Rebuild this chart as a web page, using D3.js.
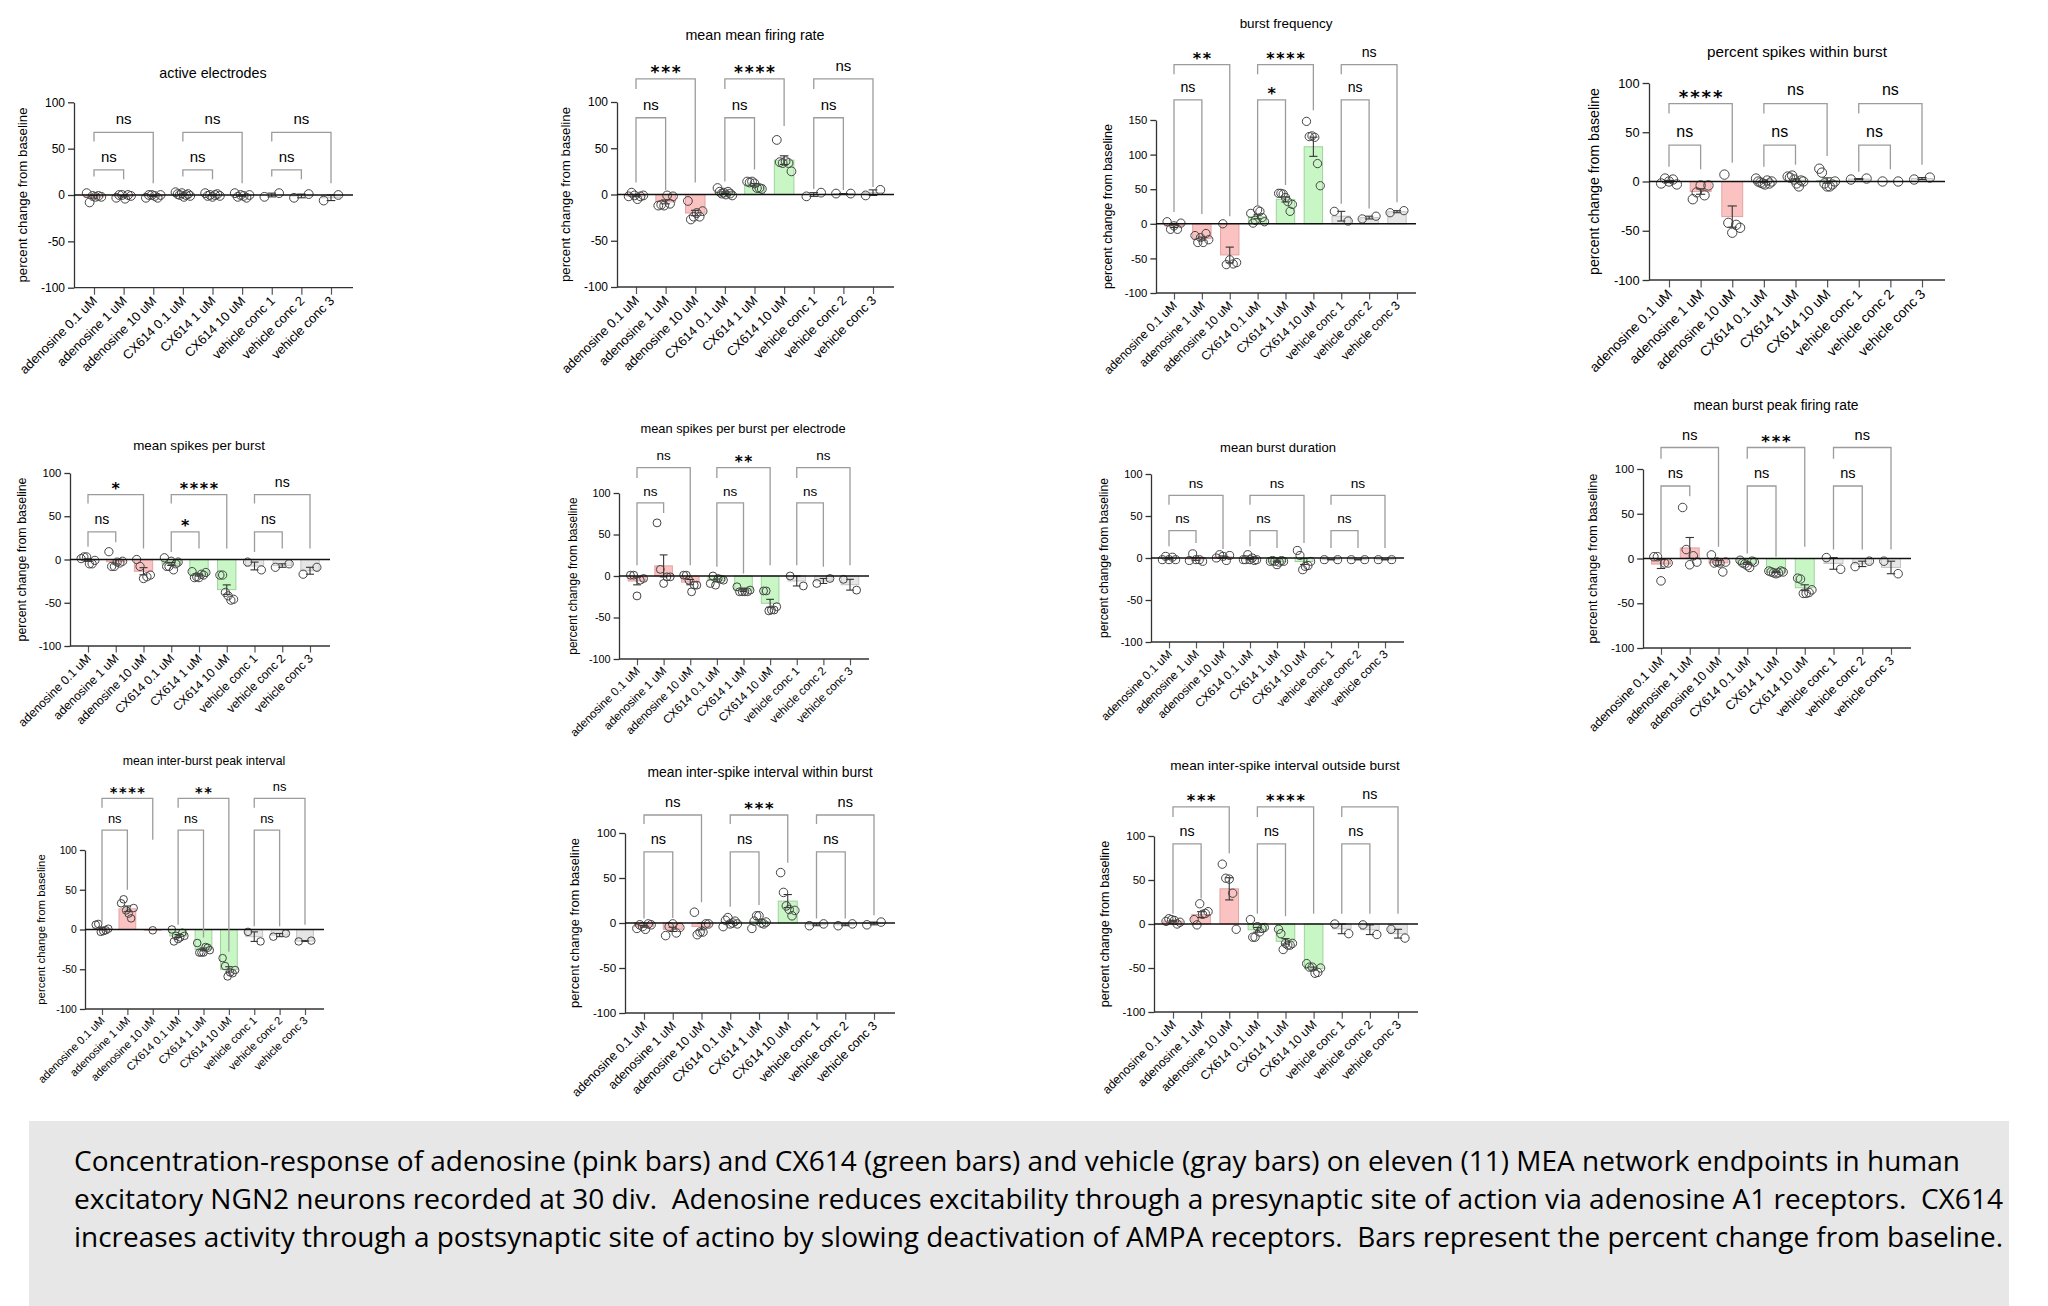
<!DOCTYPE html>
<html>
<head>
<meta charset="utf-8">
<script src="https://d3js.org/d3.v7.min.js"></script>
<style>
body { margin: 0; background: #fff; }
text { font-family: "Liberation Sans", Arial, sans-serif; fill: #000; }
</style>
</head>
<body>
<script>
var W = 2048, H = 1306;

// categories on every x axis
var categories = ["adenosine 0.1 uM", "adenosine 1 uM", "adenosine 10 uM",
                  "CX614 0.1 uM", "CX614 1 uM", "CX614 10 uM",
                  "vehicle conc 1", "vehicle conc 2", "vehicle conc 3"];
var drugOf = ["adenosine", "adenosine", "adenosine", "CX614", "CX614", "CX614", "vehicle", "vehicle", "vehicle"];

// single-well values, percent change from baseline
var activeElectrodes = [[2,-8,-1,-2,-1,-2],[-3,0,0,-4,0,-1],[-3,0,0,-1,-3,0],[3,1,0,2,-2,0,1,-1],[2,-1,0,-2,0,1,-1],[2,-2,0,-1,-3,0],[-2,2],[-3,1],[-6,0]];
var meanFiringRate = [[-2,2,-1,-5,-2,-1],[-12,-11,-12,-1,-10,-2],[-7,-27,-24,-20,-24,-18],[7,3,1,2,0,3,1,-1],[14,13,14,12,7,7,6],[59,35,34,36,34,25],[-2,2],[1,1],[-1,5]];
var burstFrequency = [[3,-8,-3,-8,1],[-17,-27,-20,-27,-14,-23],[0,-59,-52,-58,-56],[15,1,5,20,18,9,3],[44,44,43,38,32,18,28],[148,126,127,125,87,55],[18,4],[7,11],[16,19]];
var spikesWithinBurst = [[-2,3,0,2,-3],[-18,-11,-4,-14,-4],[7,-42,-52,-44,-47],[3,0,-1,-2,-3,1,-2,0],[5,4,6,2,-2,-5,1,0],[13,9,-2,-5,-5,-3,0],[2,3],[0,0],[2,4]];
var spikesPerBurst = [[1,3,3,-5,-5,-1],[9,-8,-8,-3,-4,-2],[0,-8,-22,-20,-18],[2,-8,-8,-2,-12,-5,-3],[-14,-21,-20,-21,-17,-18,-15],[-18,-18,-38,-42,-47,-46],[-3,-12],[-9,-5],[-17,-9]];
var spikesPerBurstElectrode = [[1,1,-24,-5,-3],[64,8,-9,-1,-1],[1,1,-5,-19,-11,-11],[-9,0,-11,-3,-4,-5],[-13,-19,-19,-19,-19,-17],[-18,-18,-42,-41,-41,-37],[0,-12],[-9,-3],[-4,-17]];
var burstDuration = [[-2,2,-2,1,-2],[-3,5,-2,-2,-4],[0,4,2,-3,3],[-2,-2,4,-2,0,-3,-2],[-4,-3,-4,-8,-5,-3,-4],[9,3,-14,-10,-9,-4],[-2,-2],[-2,-2],[-2,-2]];
var burstPeakRate = [[2,2,-25,-5,-5],[57,10,-7,3,-4],[4,-5,-4,-5,-15,-4],[-2,-5,-6,-8,-10,-3,-4],[-14,-15,-16,-17,-16,-14,-15],[-22,-23,-39,-39,-38,-35],[1,-12],[-9,-3],[-3,-17]];
var interBurstInterval = [[6,7,-3,-2,-1,1],[33,38,24,20,14,27],[-1],[0,-15,-8,-12,-10,-4,-8],[-17,-29,-29,-29,-22,-23,-26],[-36,-46,-59,-54,-55,-51],[-3,-15],[-9,-5],[-15,-14]];
var isiWithinBurst = [[-6,-2,-4,-7,-1,-2],[-14,-4,-1,-11,-5],[12,-13,-10,-10,-1,-1],[-4,3,6,-1,0,2,-1],[-6,2,8,8,0,-1,1],[56,34,19,15,8,14],[-3,-1],[-3,-1],[-2,1]];
var isiOutsideBurst = [[3,6,5,4,0,2],[5,-1,23,11,12,14],[68,52,51,35,-6],[5,-15,-15,-3,-9,-5,-4],[-6,-11,-29,-22,-24,-24,-22],[-45,-49,-49,-56,-55,-50],[0,-11],[-1,-12],[-6,-16]];

// significance labels: [top, lower] bracket for adenosine, CX614, vehicle
var sigActive = ["ns","ns","ns","ns","ns","ns"];
var sigFiring = ["***","ns","****","ns","ns","ns"];
var sigBurstFreq = ["**","ns","****","*","ns","ns"];
var sigWithin = ["****","ns","ns","ns","ns","ns"];
var sigSpikes = ["*","ns","****","*","ns","ns"];
var sigSpikesElec = ["ns","ns","**","ns","ns","ns"];
var sigDuration = ["ns","ns","ns","ns","ns","ns"];
var sigPeak = ["ns","ns","***","ns","ns","ns"];
var sigIBI = ["****","ns","**","ns","ns","ns"];
var sigIsiIn = ["ns","ns","***","ns","ns","ns"];
var sigIsiOut = ["***","ns","****","ns","ns","ns"];

var yTicks = [-100, -50, 0, 50, 100];
var yTicksWide = [-100, -50, 0, 50, 100, 150];

var captionLines = [
  "Concentration-response of adenosine (pink bars) and CX614 (green bars) and vehicle (gray bars) on eleven (11) MEA network endpoints in human",
  "excitatory NGN2 neurons recorded at 30 div.  Adenosine reduces excitability through a presynaptic site of action via adenosine A1 receptors.  CX614",
  "increases activity through a postsynaptic site of actino by slowing deactivation of AMPA receptors.  Bars represent the percent change from baseline."
];

var barFill = {adenosine: "#fbc2c2", CX614: "#c8f7c5", vehicle: "#e6e6e6"};
var barStroke = {adenosine: "#e3a3a3", CX614: "#9fd29c", vehicle: "#c4c4c4"};

// panel placement on the page; bracket rows are [topY, topLeftLeg, topRightLeg, lowY, lowLeftLeg, lowRightLeg] in data units
var panels = [
  {title: "active electrodes", data: activeElectrodes, sig: sigActive, x0: 74, x1: 353, yTop: 102.3, yBot: 287.7, top: 100, c0: 94, c8: 331, tx: 213, ty: 73,
   br: [[67.6,57.6,12.6,27,20,17],[67.6,57.6,12.6,27,20,17],[67.6,57.6,12.6,27,20,17]]},
  {title: "mean mean firing rate", data: meanFiringRate, sig: sigFiring, x0: 617, x1: 894, yTop: 102, yBot: 287, top: 100, c0: 636, c8: 873, tx: 755, ty: 35,
   br: [[125,114,13,83,13,5],[125,114,74,83,14,27],[125,114,8,83,6,5]]},
  {title: "burst frequency", data: burstFrequency, sig: sigBurstFreq, x0: 1156, x1: 1416, yTop: 120, yBot: 293, top: 150, c0: 1174, c8: 1397, tx: 1286, ty: 23,
   br: [[230,216,11,179,17,14],[230,216,164,179,27,56],[230,216,31,179,29,22]]},
  {title: "percent spikes within burst", data: spikesWithinBurst, sig: sigWithin, x0: 1649, x1: 1945, yTop: 83, yBot: 280, top: 100, c0: 1669, c8: 1922, tx: 1797, ty: 52,
   br: [[79,69,19,37,15,12.5],[79,69,26,37,15,17],[79,69,17,37,10,12.5]]},
  {title: "mean spikes per burst", data: spikesPerBurst, sig: sigSpikes, x0: 70, x1: 330, yTop: 473, yBot: 646, top: 100, c0: 88, c8: 310, tx: 199, ty: 445,
   br: [[75,64.6,12.7,32,14.6,20],[75,64.6,12.7,32,8.8,12.7],[75,64.6,12.7,32,8.8,12.7]]},
  {title: "mean spikes per burst per electrode", data: spikesPerBurstElectrode, sig: sigSpikesElec, x0: 619, x1: 869, yTop: 493, yBot: 659, top: 100, c0: 637, c8: 850, tx: 743, ty: 429,
   br: [[130.5,118,13,88,13,76],[130.5,118,13,88,11,3],[130.5,118,13,88,13,11]]},
  {title: "mean burst duration", data: burstDuration, sig: sigDuration, x0: 1151, x1: 1404, yTop: 474, yBot: 642, top: 100, c0: 1169, c8: 1385, tx: 1278, ty: 447,
   br: [[74.6,63.5,10.7,32.5,14,18],[74.6,63.5,18,32.5,14,12],[74.6,63.5,12,32.5,12,12]]},
  {title: "mean burst peak firing rate", data: burstPeakRate, sig: sigPeak, x0: 1643, x1: 1911, yTop: 469, yBot: 648, top: 100, c0: 1661, c8: 1891, tx: 1776, ty: 405,
   br: [[124,111.5,13,81,5.6,69.5],[124,111.5,13,81,5.6,2],[124,111.5,10,81,10,10]]},
  {title: "mean inter-burst peak interval", data: interBurstInterval, sig: sigIBI, x0: 85, x1: 324, yTop: 850, yBot: 1009, top: 100, c0: 102, c8: 305, tx: 204, ty: 761,
   br: [[165,153,113,125,8.4,50],[165,153,-28,125,6,-10],[165,153,6,125,4,4]]},
  {title: "mean inter-spike interval within burst", data: isiWithinBurst, sig: sigIsiIn, x0: 625, x1: 895, yTop: 833, yBot: 1013, top: 100, c0: 644, c8: 874, tx: 760, ty: 772,
   br: [[120,110,23,79,5,5.5],[120,110,67,79,18,20],[120,110,8.5,79,5,5]]},
  {title: "mean inter-spike interval outside burst", data: isiOutsideBurst, sig: sigIsiOut, x0: 1154, x1: 1418, yTop: 836, yBot: 1012, top: 100, c0: 1173, c8: 1398, tx: 1285, ty: 765,
   br: [[133,121.6,80,91,11.7,29],[133,121.6,11.7,91,11.7,8.7],[133,121.6,11.7,91,11.7,11.7]]}
];

var svg = d3.select("body").append("svg").attr("width", W).attr("height", H);

panels.forEach(function(p) {
  var x = d3.scalePoint().domain(categories).range([p.c0, p.c8]);
  var y = d3.scaleLinear().domain([-100, p.top]).range([p.yBot, p.yTop]);
  var step = x.step();
  var s = Math.max(0.86, step / 29.6);
  var bw = step * 0.66;
  var g = svg.append("g");

  // title
  g.append("text").attr("x", p.tx).attr("y", p.ty + 5 * s)
    .attr("text-anchor", "middle").style("font-size", (14.3 * s) + "px")
    .text(p.title);

  // y axis
  var yAxis = g.append("g").attr("transform", "translate(" + p.x0 + ",0)")
    .call(d3.axisLeft(y).tickValues(p.top == 150 ? yTicksWide : yTicks)
      .tickSize(6 * s).tickSizeOuter(0).tickPadding(3)
      .tickFormat(function(d) { return String(d); }));
  yAxis.selectAll("path,line").attr("stroke", "#333").attr("stroke-width", 1.3);
  yAxis.selectAll("text").style("font-size", (12 * s) + "px").attr("font-family", null);

  g.append("text")
    .attr("transform", "translate(" + (p.x0 - 47 * s) + "," + ((p.yTop + p.yBot) / 2) + ") rotate(-90)")
    .attr("text-anchor", "middle").style("font-size", (13.3 * s) + "px")
    .text("percent change from baseline");

  // x axis
  var xAxis = g.append("g").attr("transform", "translate(0," + p.yBot + ")")
    .call(d3.axisBottom(x).tickSize(7 * s).tickFormat(""));
  xAxis.select(".domain").remove();
  xAxis.selectAll("line").attr("stroke", "#555").attr("stroke-width", 1.2);
  g.append("line").attr("x1", p.x0).attr("x2", p.x1).attr("y1", p.yBot).attr("y2", p.yBot)
    .attr("stroke", "#333").attr("stroke-width", 1.3);

  g.selectAll(".cat").data(categories).enter().append("text")
    .attr("transform", function(d) { return "translate(" + (x(d) + 4 * s) + "," + (p.yBot + 14 * s) + ") rotate(-45)"; })
    .attr("text-anchor", "end").style("font-size", (13 * s) + "px")
    .text(function(d) { return d; });

  // bars
  var stats = p.data.map(function(v, i) {
    var m = d3.mean(v);
    var sem = v.length > 1 ? d3.deviation(v) / Math.sqrt(v.length) : 0;
    return {cat: categories[i], drug: drugOf[i], vals: v, mean: m, sem: sem};
  });

  g.selectAll(".bar").data(stats).enter().append("rect")
    .attr("x", function(d) { return x(d.cat) - bw / 2; })
    .attr("width", bw)
    .attr("y", function(d) { return Math.min(y(0), y(d.mean)); })
    .attr("height", function(d) { return Math.abs(y(d.mean) - y(0)); })
    .attr("fill", function(d) { return barFill[d.drug]; })
    .attr("stroke", function(d) { return barStroke[d.drug]; })
    .attr("stroke-width", 1);

  // error bars (mean +/- SEM)
  var eb = g.selectAll(".err").data(stats.filter(function(d) { return d.vals.length > 1; })).enter().append("g")
    .attr("stroke", "#333").attr("stroke-width", 1.1);
  var cap = bw * 0.22;
  eb.append("line").attr("x1", function(d) { return x(d.cat); }).attr("x2", function(d) { return x(d.cat); })
    .attr("y1", function(d) { return y(d.mean - d.sem); }).attr("y2", function(d) { return y(d.mean + d.sem); });
  eb.append("line").attr("x1", function(d) { return x(d.cat) - cap; }).attr("x2", function(d) { return x(d.cat) + cap; })
    .attr("y1", function(d) { return y(d.mean + d.sem); }).attr("y2", function(d) { return y(d.mean + d.sem); });
  eb.append("line").attr("x1", function(d) { return x(d.cat) - cap; }).attr("x2", function(d) { return x(d.cat) + cap; })
    .attr("y1", function(d) { return y(d.mean - d.sem); }).attr("y2", function(d) { return y(d.mean - d.sem); });

  // individual points, spread across the bar
  var spread = bw * 0.75;
  stats.forEach(function(d) {
    var n = d.vals.length;
    g.selectAll(null).data(d.vals).enter().append("circle")
      .attr("cx", function(v, i) { return x(d.cat) + (n > 1 ? -spread / 2 + i * spread / (n - 1) : 0); })
      .attr("cy", function(v) { return y(v); })
      .attr("r", 4.4 * s)
      .attr("fill", "none").attr("stroke", "#444").attr("stroke-width", 1);
  });

  // zero line
  g.append("line").attr("x1", p.x0).attr("x2", p.x1).attr("y1", y(0)).attr("y2", y(0))
    .attr("stroke", "#111").attr("stroke-width", 1.5);

  // comparison brackets
  p.br.forEach(function(b, gi) {
    var a = categories[gi * 3], mid = categories[gi * 3 + 1], c = categories[gi * 3 + 2];
    var rows = [
      {xa: x(a), xb: x(c), yy: b[0], l: b[1], r: b[2], label: p.sig[gi * 2]},
      {xa: x(a), xb: x(mid), yy: b[3], l: b[4], r: b[5], label: p.sig[gi * 2 + 1]}
    ];
    rows.forEach(function(r) {
      g.append("path")
        .attr("d", "M" + r.xa + "," + y(r.l) + "V" + y(r.yy) + "H" + r.xb + "V" + y(r.r))
        .attr("fill", "none").attr("stroke", "#9c9c9c").attr("stroke-width", 1.3);
      var cx = (r.xa + r.xb) / 2;
      if (r.label == "ns") {
        g.append("text").attr("x", cx).attr("y", y(r.yy) - 8 * s)
          .attr("text-anchor", "middle").style("font-size", (15 * s) + "px").text(r.label);
      } else {
        g.append("text").attr("x", cx + 0.9 * s).attr("y", y(r.yy) - 1 * s)
          .attr("text-anchor", "middle")
          .style("font-family", "'DejaVu Sans', sans-serif").style("font-weight", "bold")
          .style("font-size", (17 * s) + "px").style("letter-spacing", (1.8 * s) + "px")
          .text(r.label);
      }
    });
  });
});

// caption box
svg.append("rect").attr("x", 29).attr("y", 1121).attr("width", 1980).attr("height", 185).attr("fill", "#e7e7e7");
var capWidths = [1886, 1929, 1929];
svg.selectAll(".cap").data(captionLines).enter().append("text")
  .attr("x", 74).attr("y", function(d, i) { return 1171 + i * 38; })
  .attr("textLength", function(d, i) { return capWidths[i]; })
  .attr("lengthAdjust", "spacingAndGlyphs")
  .style("white-space", "pre")
  .style("font-family", "'Liberation Sans Narrow', 'Open Sans', Lato, sans-serif")
  .style("font-size", "28px")
  .text(function(d) { return d; });
</script>
</body>
</html>
